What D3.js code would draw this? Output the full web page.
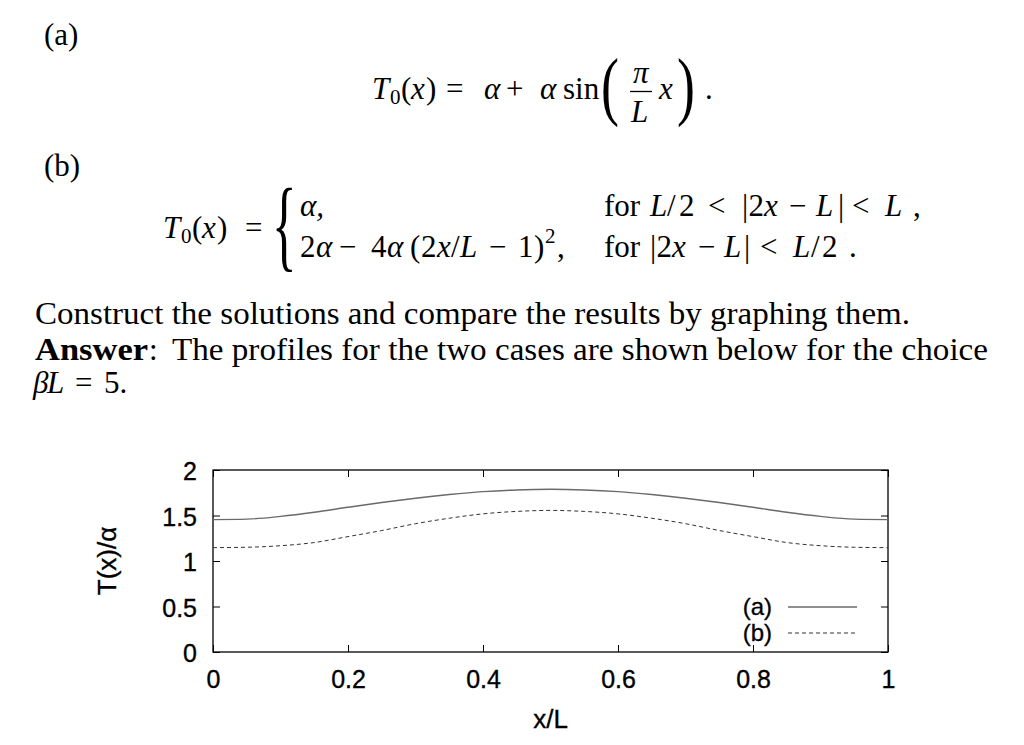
<!DOCTYPE html>
<html>
<head>
<meta charset="utf-8">
<script src="https://cdn.jsdelivr.net/npm/d3@7"></script>
<style>
    html, body { margin: 0; padding: 0; background: #fff; }
    svg { display: block; }
</style>
</head>
<body>
<svg id="page" width="1024" height="745"></svg>
<script>
// values (beta*L = 5)
var xPos = [0, 0.05, 0.1, 0.15, 0.2, 0.25, 0.3, 0.35, 0.4, 0.45, 0.5,
    0.55, 0.6, 0.65, 0.7, 0.75, 0.8, 0.85, 0.9, 0.95, 1];
var profileA = [1.455, 1.46, 1.49, 1.535, 1.59, 1.643, 1.69, 1.73, 1.762, 1.781, 1.788,
    1.781, 1.762, 1.73, 1.69, 1.643, 1.59, 1.535, 1.49, 1.46, 1.455];
var profileB = [1.147, 1.151, 1.168, 1.203, 1.268, 1.335, 1.41, 1.47, 1.518, 1.545, 1.556,
    1.545, 1.518, 1.47, 1.41, 1.335, 1.268, 1.203, 1.168, 1.151, 1.147];
var seriesNames = ["(a)", "(b)"];
var xTicks = [0, 0.2, 0.4, 0.6, 0.8, 1];
var xTickLabels = ["0", "0.2", "0.4", "0.6", "0.8", "1"];
var yTicks = [0, 0.5, 1, 1.5, 2];
var yTickLabels = ["0", "0.5", "1", "1.5", "2"];

var serif = "'Liberation Serif', 'Times New Roman', serif";
var sans = "'Liberation Sans', Arial, Helvetica, sans-serif";

var svg = d3.select("#page");

// ---------- text part ----------
var txt = svg.append("g").attr("font-family", serif).attr("fill", "#000");

function put(s, x, y, o) {
    o = o || {};
    return txt.append("text")
        .attr("x", x).attr("y", y)
        .attr("font-size", o.size || 31)
        .attr("font-style", o.it ? "italic" : null)
        .attr("font-weight", o.bold ? "bold" : null)
        .text(s);
}

// one text element per formula line, each token placed with its own tspan
// token = [string, x, italic, baseline, size]
function mathRow(tokens, y) {
    var t = txt.append("text").attr("y", y).attr("font-size", 31);
    tokens.forEach(function (k) {
        t.append("tspan")
            .attr("x", k[1]).attr("y", k[3] || y)
            .attr("font-size", k[4] || null)
            .attr("font-style", k[2] ? "italic" : null)
            .text(k[0]);
    });
    return t;
}

// tall delimiters: stretch a glyph between top and bottom
function bigGlyph(ch, x, top, bottom, sx) {
    var fs = (bottom - top) / 0.87;
    var base = bottom - 0.18 * fs;
    txt.append("text")
        .attr("transform", "translate(" + x + "," + base + ") scale(" + sx + ",1)")
        .attr("font-size", fs)
        .text(ch);
}

put("(a)", 44, 45);
put("(b)", 44, 176);

// equation (a)
mathRow([["T", 372, true], ["0", 390, false, 104, 21], ["(", 401], ["x", 411, true], [")", 426],
    ["=", 446], ["α", 484, true], ["+", 506], ["α", 540, true], ["sin", 563]], 99);
bigGlyph("(", 601, 58, 125, 0.7);
put("π", 633, 83, {it: true});
txt.append("line").attr("x1", 630).attr("x2", 652).attr("y1", 91.5).attr("y2", 91.5)
    .attr("stroke", "#000").attr("stroke-width", 1.3);
put("L", 631, 122, {it: true});
put("x", 659, 99, {it: true});
bigGlyph(")", 677, 58, 125, 0.7);
put(".", 705, 99);

// equation (b)
mathRow([["T", 163, true], ["0", 181, false, 243, 21], ["(", 192], ["x", 202, true], [")", 217],
    ["=", 245]], 238);
bigGlyph("{", 272, 187, 276, 0.5);
mathRow([["α,", 300, true],
    ["for", 604], ["L", 650, true], ["/", 667], ["2", 679], ["<", 708], ["|", 742],
    ["2", 748.5], ["x", 764, true], ["−", 789], ["L", 816, true], ["|", 838], ["<", 852],
    ["L", 885, true], [",", 913]], 216);
mathRow([["2", 300], ["α", 316, true], ["−", 339], ["4", 371], ["α", 387, true], ["(", 410],
    ["2", 421], ["x", 437, true], ["/", 451], ["L", 460, true], ["−", 489], ["1", 518],
    [")", 534], ["2", 545, false, 243, 21], [",", 557],
    ["for", 604], ["|", 650], ["2", 656.5], ["x", 672, true], ["−", 698], ["L", 724, true],
    ["|", 744], ["<", 760], ["L", 793, true], ["/", 811], ["2", 822], [".", 849]], 257);

// paragraph
put("Construct the solutions and compare the results by graphing them.", 35, 324)
    .attr("textLength", 875).attr("lengthAdjust", "spacingAndGlyphs");
put("Answer", 35, 359.5, {bold: true})
    .attr("textLength", 113).attr("lengthAdjust", "spacingAndGlyphs");
put(":", 149, 359.5);
put("The profiles for the two cases are shown below for the choice", 172, 359.5)
    .attr("textLength", 816).attr("lengthAdjust", "spacingAndGlyphs");
mathRow([["β", 33, true], ["L", 47, true], ["=", 75], ["5.", 104]], 393);

// ---------- chart ----------
var box = {left: 213, top: 470, width: 675, height: 182};
var plot = svg.append("g")
    .attr("transform", "translate(" + box.left + "," + box.top + ")");

var x = d3.scaleLinear().domain([0, 1]).range([0, box.width]);
var y = d3.scaleLinear().domain([0, 2]).range([box.height, 0]);

function styleAxis(g) {
    g.select(".domain").remove();
    g.attr("font-family", sans).attr("font-size", 25).attr("color", "#000");
    g.selectAll("line").attr("stroke-width", 1);
    g.selectAll("text").attr("stroke", "#000").attr("stroke-width", 0.35);
}

plot.append("g")
    .attr("transform", "translate(0," + box.height + ")")
    .call(d3.axisBottom(x).tickValues(xTicks)
        .tickFormat(function (d, i) { return xTickLabels[i]; })
        .tickSizeInner(-7).tickSizeOuter(0).tickPadding(18))
    .call(styleAxis);

plot.append("g")
    .call(d3.axisTop(x).tickValues(xTicks).tickFormat("")
        .tickSizeInner(-7).tickSizeOuter(0))
    .call(styleAxis);

plot.append("g")
    .call(d3.axisLeft(y).tickValues(yTicks)
        .tickFormat(function (d, i) { return yTickLabels[i]; })
        .tickSizeInner(-7).tickSizeOuter(0).tickPadding(16))
    .call(styleAxis)
    .selectAll("text").attr("dy", "0.38em");

plot.append("g")
    .attr("transform", "translate(" + box.width + ",0)")
    .call(d3.axisRight(y).tickValues(yTicks).tickFormat("")
        .tickSizeInner(-7).tickSizeOuter(0))
    .call(styleAxis);

plot.append("rect")
    .attr("width", box.width).attr("height", box.height)
    .attr("fill", "none").attr("stroke", "#000").attr("stroke-width", 1.3);

var line = d3.line()
    .x(function (d) { return x(d[0]); })
    .y(function (d) { return y(d[1]); })
    .curve(d3.curveMonotoneX);

var series = [
    {name: seriesNames[0], values: profileA, color: "#6a6a6a", width: 1.4, dash: null},
    {name: seriesNames[1], values: profileB, color: "#333", width: 1, dash: "4,3"}
];

plot.selectAll("path.profile")
    .data(series)
    .enter()
    .append("path")
    .attr("class", "profile")
    .attr("fill", "none")
    .attr("stroke", function (d) { return d.color; })
    .attr("stroke-width", function (d) { return d.width; })
    .attr("stroke-dasharray", function (d) { return d.dash; })
    .attr("d", function (d) {
        return line(d.values.map(function (v, i) { return [xPos[i], v]; }));
    });

// legend, bottom right inside the box
var legend = plot.append("g")
    .attr("font-family", sans).attr("font-size", 24).attr("text-anchor", "end")
    .selectAll("g")
    .data(series)
    .enter()
    .append("g")
    .attr("transform", function (d, i) {
        return "translate(0," + (137 + i * 26) + ")";
    });

legend.append("text")
    .attr("x", 559).attr("y", 8)
    .attr("stroke", "#000").attr("stroke-width", 0.3)
    .text(function (d) { return d.name; });

legend.append("line")
    .attr("x1", 575).attr("x2", 644)
    .attr("stroke", function (d) { return d.color; })
    .attr("stroke-width", function (d) { return d.width; })
    .attr("stroke-dasharray", function (d) { return d.dash; });

// axis titles
svg.append("text")
    .attr("transform", "translate(116," + (box.top + box.height / 2) + ") rotate(-90)")
    .attr("text-anchor", "middle")
    .attr("font-family", sans).attr("font-size", 26)
    .attr("stroke", "#000").attr("stroke-width", 0.35)
    .text("T(x)/α");

svg.append("text")
    .attr("x", box.left + box.width / 2).attr("y", 728)
    .attr("text-anchor", "middle")
    .attr("font-family", sans).attr("font-size", 26)
    .attr("stroke", "#000").attr("stroke-width", 0.35)
    .text("x/L");
</script>
</body>
</html>
